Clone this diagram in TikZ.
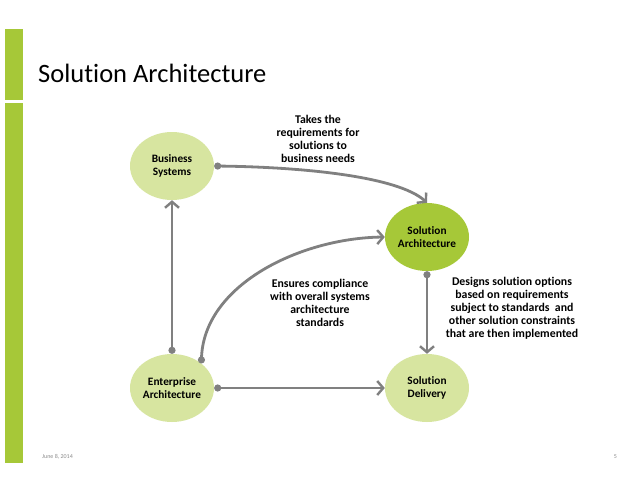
\documentclass[tikz,border=0pt]{standalone}
\usepackage{fontspec}
\setmainfont[RawFeature=-liga]{Carlito}
\usetikzlibrary{shapes.geometric,arrows.meta}
\definecolor{barGreen}{RGB}{166,200,56}
\definecolor{lightGreen}{RGB}{215,229,160}
\definecolor{darkGreen}{RGB}{166,200,56}
\definecolor{connGray}{RGB}{128,128,128}
\definecolor{footGray}{RGB}{140,140,140}
\tikzset{
  bubble/.style={ellipse, fill=lightGreen, minimum width=84pt, minimum height=68pt, inner sep=0pt, align=center, font=\fontsize{11.3}{12.8}\selectfont\bfseries},
  darkbubble/.style={bubble, fill=darkGreen},
  conn/.style={draw=connGray, line width=2.8pt, {Circle[length=7pt]}-{Straight Barb[length=6pt,width=14pt,line width=2.4pt]}},
  lbl/.style={align=center, font=\fontsize{11.8}{13}\selectfont\bfseries},
  bar/.style={fill=barGreen, draw=none}
}
\begin{document}
\begin{tikzpicture}[x=1pt,y=-1pt]
\useasboundingbox (0,0) rectangle (638,493);
\fill[white] (0,0) rectangle (638,493);
\path[bar] (5,29) rectangle (23,100);
\path[bar] (5,103) rectangle (23,463);
\node[anchor=base west, inner sep=0pt, font=\fontsize{26.5}{30}\selectfont] (title) at (38,82) {Solution Architecture};
\node[bubble] (bs) at (172,166) {Business\\Systems};
\node[darkbubble] (sa) at (427,237) {Solution\\Architecture};
\node[bubble] (ea) at (172,388) {Enterprise\\Architecture};
\node[bubble] (sd) at (427,388) {Solution\\Delivery};
\draw[conn] (bs.east) .. controls (300,167) and (398,176) .. (sa.north);
\draw[conn] (ea.north) -- (bs.south);
\draw[conn] (ea.40) .. controls (204,285) and (300,238) .. (sa.west);
\draw[conn] (sa.south) -- (sd.north);
\draw[conn] (ea.east) -- (sd.west);
\node[lbl] (l1) at (318,139) {Takes the\\requirements for\\solutions to\\business needs};
\node[lbl] (l2) at (320,303) {Ensures compliance\\with overall systems\\architecture\\standards};
\node[lbl] (l3) at (512,308) {Designs solution options\\based on requirements\\subject to standards\ \ and\\other solution constraints\\that are then implemented};
\node[anchor=base west, inner sep=0pt, text=footGray, font=\fontsize{6}{7}\selectfont] (date) at (42,458) {June 8, 2014};
\node[anchor=base east, inner sep=0pt, text=footGray, font=\fontsize{6}{7}\selectfont] (page) at (617,458) {5};
\end{tikzpicture}
\end{document}
